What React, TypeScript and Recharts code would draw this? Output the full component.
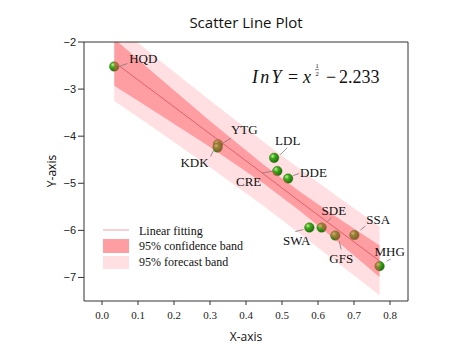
import React from 'react';
import {
  Area,
  ComposedChart,
  Line,
  ReferenceLine,
  Scatter,
  XAxis,
  YAxis,
} from 'recharts';

// sample sites
const names = ['HQD', 'YTG', 'KDK', 'LDL', 'CRE', 'DDE', 'SWA', 'SDE', 'GFS', 'SSA', 'MHG'];
const xVals = [0.034, 0.322, 0.321, 0.478, 0.487, 0.517, 0.576, 0.61, 0.648, 0.701, 0.771];
const yVals = [-2.52, -4.17, -4.24, -4.46, -4.74, -4.9, -5.94, -5.94, -6.11, -6.1, -6.76];

// fitted line and bands, read at a few x positions
const bandX = [0.034, 0.15, 0.3, 0.45, 0.55, 0.65, 0.771];
const fitY = [-2.43, -3.09, -3.95, -4.81, -5.39, -5.96, -6.65];
const confLow = [-2.93, -3.49, -4.23, -5.01, -5.59, -6.21, -6.99];
const confHigh = [-1.93, -2.7, -3.68, -4.61, -5.18, -5.71, -6.32];
const predLow = [-3.25, -3.86, -4.66, -5.49, -6.07, -6.66, -7.38];
const predHigh = [-1.61, -2.33, -3.24, -4.13, -4.7, -5.26, -5.92];

const xTicks = [0, 0.1, 0.2, 0.3, 0.4, 0.5, 0.6, 0.7, 0.8];
const yTicks = [-7, -6, -5, -4, -3, -2];

// label placement relative to the point (text anchor + leader line)
const labelLayout: Record<string, { dx: number; dy: number; anchor: 'start' | 'end'; leader: number[] }> = {
  HQD: { dx: 15, dy: -3, anchor: 'start', leader: [5, 0, 13, -3] },
  YTG: { dx: 13, dy: -10, anchor: 'start', leader: [5, -1, 13, -6] },
  KDK: { dx: -9, dy: 20, anchor: 'end', leader: [-4, 3, -7, 9] },
  LDL: { dx: 1, dy: -13, anchor: 'start', leader: [6, -3, 13, -10] },
  CRE: { dx: -16, dy: 15, anchor: 'end', leader: [-15, 2, -4, 0] },
  DDE: { dx: 12, dy: -2, anchor: 'start', leader: [5, -3, 11, -5] },
  SWA: { dx: 1, dy: 17, anchor: 'end', leader: [-14, 4, -6, 2] },
  SDE: { dx: 0, dy: -13, anchor: 'start', leader: [6, -6, 10, -10] },
  GFS: { dx: -6, dy: 27, anchor: 'start', leader: [4, 6, 6, 14] },
  SSA: { dx: 12, dy: -11, anchor: 'start', leader: [6, -5, 11, -9] },
  MHG: { dx: -5, dy: -10, anchor: 'start', leader: [7, -5, 11, -7] },
};

const bandData = bandX.map((x, i) => ({
  x,
  fit: fitY[i],
  conf: [confLow[i], confHigh[i]],
  pred: [predLow[i], predHigh[i]],
}));

const points = names.map((name, i) => ({ name, x: xVals[i], y: yVals[i] }));

const serif = '"Liberation Serif", "Times New Roman", serif';
const sans = '"Open Sans", "Noto Sans", sans-serif';

function Ball({ cx, cy }: { cx?: number; cy?: number }) {
  if (cx == null || cy == null) return null;
  return <circle cx={cx} cy={cy} r={4.8} fill="url(#ballFill)" stroke="#2f6a10" strokeWidth={0.4} />;
}

function SiteLabel({ cx, cy, payload }: { cx?: number; cy?: number; payload?: { name: string } }) {
  if (cx == null || cy == null || !payload) return null;
  const l = labelLayout[payload.name];
  const [x1, y1, x2, y2] = l.leader;
  return (
    <g>
      <line x1={cx + x1} y1={cy + y1} x2={cx + x2} y2={cy + y2} stroke="#777" strokeWidth={0.8} />
      <text
        x={cx + l.dx}
        y={cy + l.dy}
        textAnchor={l.anchor}
        fontFamily={serif}
        fontSize={13}
        fill="#111"
      >
        {payload.name}
      </text>
    </g>
  );
}

export default function App() {
  return (
    <div style={{ position: 'relative', width: 474, height: 362, background: '#fff' }}>
      <style>{'body{margin:0}'}</style>
      <ComposedChart
        width={474}
        height={362}
        data={bandData}
        margin={{ top: 42, right: 66, left: 44, bottom: 31 }}
      >
        <defs>
          <radialGradient id="ballFill" cx="35%" cy="32%" r="70%">
            <stop offset="0%" stopColor="#c8f59a" />
            <stop offset="35%" stopColor="#3fae1c" />
            <stop offset="100%" stopColor="#1d6a08" />
          </radialGradient>
        </defs>
        <XAxis
          type="number"
          dataKey="x"
          domain={[-0.05, 0.85]}
          ticks={xTicks}
          tickFormatter={(v: number) => v.toFixed(1)}
          allowDataOverflow
          height={30}
          tickSize={4}
          tickMargin={6}
          stroke="#333"
          tick={{ fill: '#222', fontFamily: serif, fontSize: 11 }}
        />
        <YAxis
          type="number"
          domain={[-7.5, -2]}
          ticks={yTicks}
          tickFormatter={(v: number) => `${v}`.replace('-', '\u2212')}
          allowDataOverflow
          width={40}
          tickSize={6}
          stroke="#333"
          tick={{ fill: '#222', fontFamily: '"Liberation Sans", sans-serif', fontSize: 11 }}
        />
        <ReferenceLine y={-2} stroke="#333" />
        <ReferenceLine x={0.85} stroke="#333" />
        <Area
          dataKey="pred"
          type="linear"
          stroke="none"
          fill="#ffdfe2"
          fillOpacity={1}
          zIndex={40}
          isAnimationActive={false}
        />
        <Scatter data={points} dataKey="y" shape={<Ball />} zIndex={50} isAnimationActive={false} />
        <Area
          dataKey="conf"
          type="linear"
          stroke="none"
          fill="#ff4f54"
          fillOpacity={0.45}
          zIndex={101}
          isAnimationActive={false}
        />
        <Line
          dataKey="fit"
          type="linear"
          stroke="#e0606a"
          strokeWidth={1}
          dot={false}
          activeDot={false}
          isAnimationActive={false}
        />
        <Scatter data={points} dataKey="y" shape={<SiteLabel />} isAnimationActive={false} />
      </ComposedChart>

      <svg
        width={474}
        height={362}
        style={{ position: 'absolute', left: 0, top: 0, pointerEvents: 'none' }}
      >
        <text x={246} y={28} textAnchor="middle" fontFamily={sans} fontSize={15} fill="#111">
          Scatter Line Plot
        </text>
        <text x={246} y={341} textAnchor="middle" fontFamily={sans} fontSize={12} fill="#111">
          X-axis
        </text>
        <text
          x={56}
          y={171}
          textAnchor="middle"
          fontFamily={sans}
          fontSize={12}
          fill="#111"
          transform="rotate(-90 56 171)"
        >
          Y-axis
        </text>

        {/* equation */}
        <g fontFamily={serif} fill="#111">
          <text x={252} y={83} fontSize={18} fontStyle="italic" letterSpacing={2.2}>InY</text>
          <text x={288} y={83} fontSize={18}>=</text>
          <text x={303} y={83} fontSize={18} fontStyle="italic">x</text>
          <text x={317} y={68} fontSize={6.5} textAnchor="middle">1</text>
          <line x1={315} y1={69.6} x2={319} y2={69.6} stroke="#111" strokeWidth={0.5} />
          <text x={317} y={75.5} fontSize={6.5} textAnchor="middle">2</text>
          <text x={326} y={83} fontSize={18}>{'\u2212'}</text>
          <text x={339} y={83} fontSize={18}>2.233</text>
        </g>

        {/* legend */}
        <line x1={103} y1={230} x2={129} y2={230} stroke="#f0a0a8" strokeWidth={1} />
        <rect x={103} y={239} width={26} height={14} fill="#ff9ea2" />
        <rect x={103} y={256} width={26} height={13} fill="#ffdfe2" />
        <g fontFamily={serif} fontSize={12} fill="#111">
          <text x={139} y={234.5}>Linear fitting</text>
          <text x={139} y={249.5}>95% confidence band</text>
          <text x={139} y={266}>95% forecast band</text>
        </g>
      </svg>
    </div>
  );
}
